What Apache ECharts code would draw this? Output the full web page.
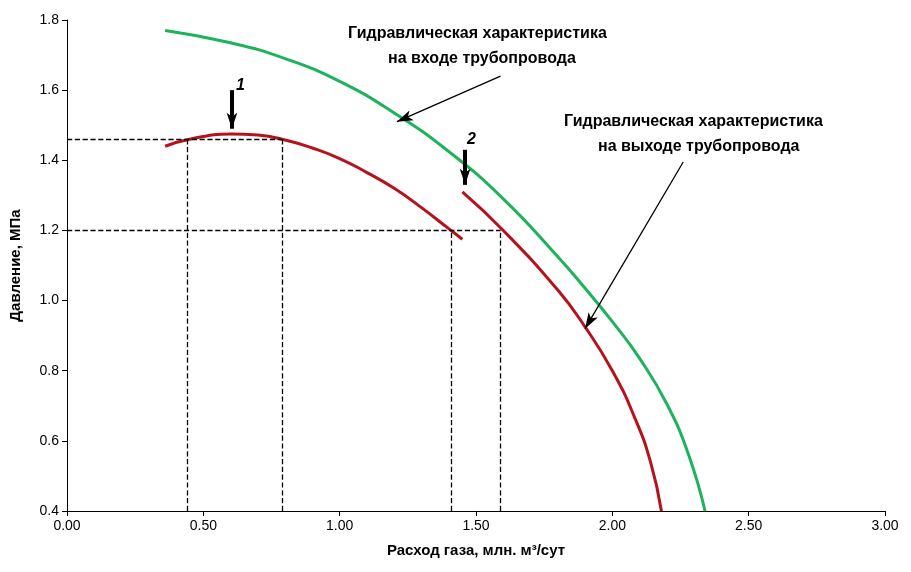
<!DOCTYPE html>
<html><head><meta charset="utf-8">
<script src="https://cdn.jsdelivr.net/npm/echarts@6/dist/echarts.min.js"></script>
<style>html,body{margin:0;background:#fff}#c{width:911px;height:572px}</style></head>
<body><div id="c"></div>
<script>
const inletCurve=[[0.36,1.77],[0.6,1.735],[0.8,1.69],[1.0,1.625],[1.2,1.535],[1.4,1.425],[1.6,1.29],[1.8,1.125],[1.9,1.035],[2.0,0.94],[2.1,0.835],[2.2,0.705],[2.28,0.56],[2.34,0.4]];
const outletCurve1=[[0.36,1.44],[0.45,1.46],[0.6,1.475],[0.7,1.472],[0.8,1.458],[0.9,1.435],[1.0,1.405],[1.1,1.365],[1.2,1.32],[1.3,1.265],[1.4,1.205],[1.45,1.175]];
const outletCurve2=[[1.45,1.31],[1.6,1.2],[1.8,1.03],[1.9,0.925],[2.0,0.8],[2.08,0.67],[2.14,0.54],[2.18,0.4]];
const hLines=[[0,0.79,1.46],[0,1.59,1.2]];
const vLines=[[0.44,1.46],[0.79,1.46],[1.41,1.2],[1.59,1.2]];
const chart=echarts.init(document.getElementById('c'));
const dash={type:'dashed',color:'#000',width:1.3};
const ml=[];
hLines.forEach(h=>ml.push([{coord:[h[0],h[2]]},{coord:[h[1],h[2]]}]));
vLines.forEach(v=>ml.push([{coord:[v[0],0.4]},{coord:[v[0],v[1]]}]));
const arrows=[
 [[1.59,1.64],[1.21,1.51],1.3],
 [[2.26,1.395],[1.90,0.92],1.3],
 [[0.605,1.6],[0.605,1.49],4],
 [[1.46,1.43],[1.46,1.33],4]];
chart.setOption({
 animation:false,
 grid:{left:67,right:26,top:20,bottom:61},
 xAxis:{type:'value',min:0,max:3,interval:0.5,
  name:'Расход газа, млн. м³/сут',nameLocation:'middle',nameGap:32,
  nameTextStyle:{fontWeight:'bold',fontSize:15,color:'#000',fontFamily:'Arial'},
  axisLabel:{formatter:v=>v.toFixed(2),color:'#000',fontSize:14},
  axisLine:{lineStyle:{color:'#000'}},axisTick:{show:true},splitLine:{show:false}},
 yAxis:{type:'value',min:0.4,max:1.8,interval:0.2,
  name:'Давление, МПа',nameLocation:'middle',nameGap:44,
  nameTextStyle:{fontWeight:'bold',fontSize:15,color:'#000',fontFamily:'Arial'},
  axisLabel:{formatter:v=>v.toFixed(1),color:'#000',fontSize:14},
  axisLine:{show:true,lineStyle:{color:'#000'}},axisTick:{show:true},splitLine:{show:false}},
 series:[
  {type:'line',data:inletCurve,smooth:0.5,symbol:'none',lineStyle:{color:'#1db35a',width:3}},
  {type:'line',data:outletCurve1,smooth:true,symbol:'none',lineStyle:{color:'#b5121b',width:3},
   markLine:{silent:true,symbol:'none',label:{show:false},lineStyle:dash,data:ml}},
  {type:'line',data:outletCurve2,smooth:0.5,symbol:'none',lineStyle:{color:'#b5121b',width:3},
   markLine:{silent:true,label:{show:false},symbol:['none','arrow'],
    data:arrows.map(a=>[{coord:a[0],lineStyle:{color:'#000',width:a[2],type:'solid'},symbolSize:a[2]>2?[14,16]:10},{coord:a[1]}])}}
 ],
 graphic:[
  {type:'text',left:348,top:26,style:{text:'Гидравлическая характеристика',font:'bold 16px Arial',fill:'#000'}},
  {type:'text',left:388,top:51,style:{text:'на входе трубопровода',font:'bold 16px Arial',fill:'#000'}},
  {type:'text',left:564,top:114,style:{text:'Гидравлическая характеристика',font:'bold 16px Arial',fill:'#000'}},
  {type:'text',left:598,top:139,style:{text:'на выходе трубопровода',font:'bold 16px Arial',fill:'#000'}},
  {type:'text',left:236,top:78,style:{text:'1',font:'bold italic 16px Arial',fill:'#000'}},
  {type:'text',left:467,top:132,style:{text:'2',font:'bold italic 16px Arial',fill:'#000'}}
 ]
});
</script></body></html>
